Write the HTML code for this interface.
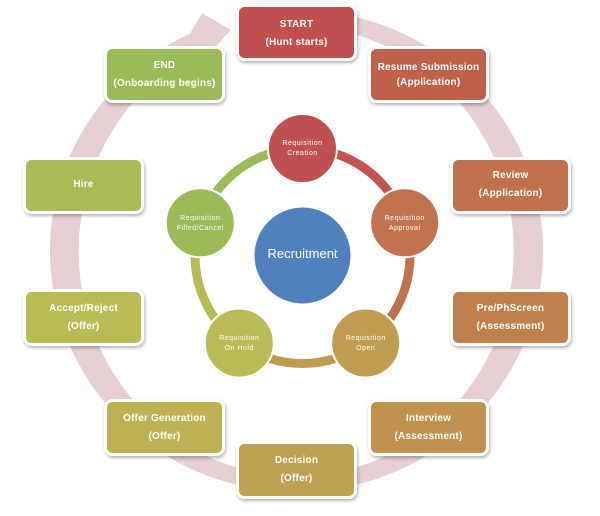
<!DOCTYPE html>
<html>
<head>
<meta charset="utf-8">
<style>
html,body{margin:0;padding:0;background:#fff;}
svg{display:block;}
.bt{font-family:"Liberation Sans",Arial,sans-serif;font-weight:bold;font-size:10px;fill:#fff;text-anchor:middle;letter-spacing:0.2px;}
.ct{font-family:"Liberation Sans",Arial,sans-serif;font-size:7px;fill:#fff;text-anchor:middle;letter-spacing:0.5px;}
</style>
</head>
<body>
<svg width="600" height="516" viewBox="0 0 600 516" xmlns="http://www.w3.org/2000/svg">
<defs>
<filter id="sh" x="-10%" y="-10%" width="125%" height="135%">
<feDropShadow dx="1" dy="2" stdDeviation="1.5" flood-color="#000" flood-opacity="0.3"/>
</filter>
</defs>

<!-- big circular arrow (elliptical band) -->
<path d="M262.2,12.3 A246.5,241 0 1 1 190,33.6 L202,13 L231,30 L217,45 L207,56 L202.5,48 A217.5,225 0 1 0 266.2,28.2 Z" fill="#e8cfd2"/>

<!-- boxes -->
<g filter="url(#sh)" stroke="#fff" stroke-width="3">
<rect x="237.5" y="5.5" width="118" height="54" rx="7" fill="#c0504d"/>
<rect x="369.5" y="47.5" width="118" height="54" rx="7" fill="#c0614c"/>
<rect x="451.5" y="158.5" width="118" height="54" rx="7" fill="#c0714d"/>
<rect x="451.5" y="290.5" width="118" height="54" rx="7" fill="#c0804e"/>
<rect x="369.5" y="400.5" width="118" height="54" rx="7" fill="#c0904f"/>
<rect x="237.5" y="442.5" width="118" height="55" rx="7" fill="#bfa251"/>
<rect x="105.5" y="400.5" width="118" height="54" rx="7" fill="#bdb152"/>
<rect x="24.5" y="290.5" width="118" height="54" rx="7" fill="#bbbb55"/>
<rect x="24.5" y="158.5" width="118" height="54" rx="7" fill="#abbb57"/>
<rect x="105.5" y="47.5" width="118" height="54" rx="7" fill="#9bbb59"/>
</g>

<g class="bt">
<text x="296.5" y="27">START</text>
<text x="296.5" y="45">(Hunt starts)</text>
<text x="428.5" y="70">Resume Submission</text>
<text x="428.5" y="85">(Application)</text>
<text x="510.5" y="178">Review</text>
<text x="510.5" y="196">(Application)</text>
<text x="510.5" y="311">Pre/PhScreen</text>
<text x="510.5" y="329">(Assessment)</text>
<text x="428.5" y="421">Interview</text>
<text x="428.5" y="439">(Assessment)</text>
<text x="296.5" y="463">Decision</text>
<text x="296.5" y="481">(Offer)</text>
<text x="164.5" y="421">Offer Generation</text>
<text x="164.5" y="439">(Offer)</text>
<text x="83.5" y="311">Accept/Reject</text>
<text x="83.5" y="329">(Offer)</text>
<text x="83.5" y="187">Hire</text>
<text x="164.5" y="68">END</text>
<text x="164.5" y="86">(Onboarding begins)</text>
</g>

<!-- inner ring segments (center 302.5,256 r 107.5) -->
<g fill="none" stroke-width="9">
<path d="M302.5,148.5 A107.5,107.5 0 0 1 404.7,222.8" stroke="#c4524f"/>
<path d="M404.7,222.8 A107.5,107.5 0 0 1 365.7,343" stroke="#c0724d"/>
<path d="M365.7,343 A107.5,107.5 0 0 1 239.3,343" stroke="#bf9b50"/>
<path d="M239.3,343 A107.5,107.5 0 0 1 200.3,222.8" stroke="#b8ba55"/>
<path d="M200.3,222.8 A107.5,107.5 0 0 1 302.5,148.5" stroke="#9bbb59"/>
</g>

<!-- circles -->
<g stroke="#fff" stroke-width="2">
<circle cx="302.5" cy="255.5" r="49" fill="#4f81bd"/>
<circle cx="302.5" cy="148.5" r="34.5" fill="#c0504d"/>
<circle cx="404.7" cy="222.8" r="34.5" fill="#c0734e"/>
<circle cx="365.7" cy="343" r="34.5" fill="#bf9c50"/>
<circle cx="239.3" cy="343" r="34.5" fill="#bbbb55"/>
<circle cx="200.3" cy="222.8" r="34.5" fill="#9bbb59"/>
</g>

<text x="302.5" y="258" font-family="'Liberation Sans',Arial,sans-serif" font-size="13" fill="#fff" text-anchor="middle">Recruitment</text>

<g class="ct">
<text x="302.5" y="145">Requisition</text>
<text x="302.5" y="155">Creation</text>
<text x="404.7" y="220">Requisition</text>
<text x="404.7" y="230">Approval</text>
<text x="365.7" y="340">Requisition</text>
<text x="365.7" y="350">Open</text>
<text x="239.3" y="340">Requisition</text>
<text x="239.3" y="350">On Hold</text>
<text x="200.3" y="220">Requisition</text>
<text x="200.3" y="230">Filled/Cancel</text>
</g>
</svg>
</body>
</html>
